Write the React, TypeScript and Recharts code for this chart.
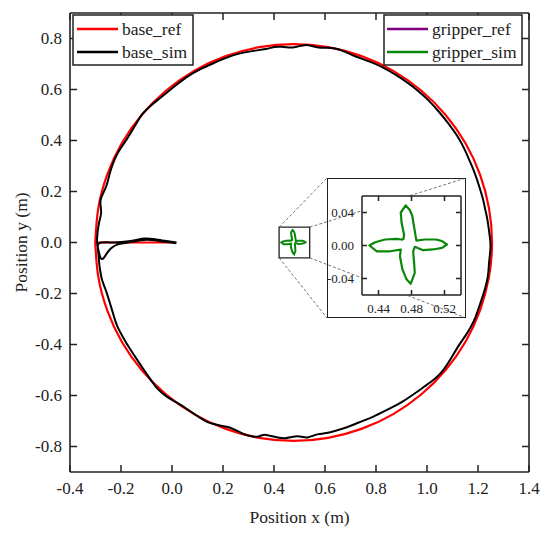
import { ComposedChart, Line, XAxis, YAxis, ReferenceLine, ReferenceArea, CartesianGrid } from "recharts";

// ---- data ----
const X_DOMAIN: [number, number] = [-0.4, 1.4];
const Y_DOMAIN: [number, number] = [-0.9, 0.9];
const X_TICKS = [-0.4, -0.2, 0, 0.2, 0.4, 0.6, 0.8, 1.0, 1.2, 1.4];
const Y_TICKS = [-0.8, -0.6, -0.4, -0.2, 0, 0.2, 0.4, 0.6, 0.8];

const ZOOM_X_DOMAIN: [number, number] = [0.42, 0.54];
const ZOOM_Y_DOMAIN: [number, number] = [-0.06, 0.06];
const ZOOM_X_TICKS = [0.44, 0.48, 0.52];
const ZOOM_Y_TICKS = [-0.04, 0, 0.04];

// base reference: straight run out to the circle, then the circle itself
const BASE_REF_RUN: [number, number][] = [[0.01, 0], [-0.301, 0]];
const BASE_REF_CIRCLE: [number, number][] = [
  [-0.301, 0],
  [-0.289, -0.135], [-0.254, -0.266], [-0.197, -0.389], [-0.119, -0.5], [-0.023, -0.596],
  [0.088, -0.674], [0.211, -0.731], [0.342, -0.766], [0.477, -0.778], [0.612, -0.766],
  [0.743, -0.731], [0.866, -0.674], [0.977, -0.596], [1.073, -0.5], [1.151, -0.389],
  [1.208, -0.266], [1.243, -0.135], [1.255, 0], [1.243, 0.135], [1.208, 0.266],
  [1.151, 0.389], [1.073, 0.5], [0.977, 0.596], [0.866, 0.674], [0.743, 0.731],
  [0.612, 0.766], [0.477, 0.778], [0.342, 0.766], [0.211, 0.731], [0.088, 0.674],
  [-0.023, 0.596], [-0.119, 0.5], [-0.197, 0.389], [-0.254, 0.266], [-0.289, 0.135],
  [-0.301, 0],
];

const BASE_SIM: [number, number][] = [
  [0.018, 0.0], [0.0, 0.003], [-0.04, 0.008], [-0.075, 0.014], [-0.105, 0.017], [-0.135, 0.011],
  [-0.17, 0.004], [-0.21, 0.001], [-0.25, 0.0], [-0.295, 0.002],
  [-0.29, -0.03], [-0.287, -0.06], [-0.285, -0.091], [-0.279, -0.125], [-0.276, -0.144],
  [-0.266, -0.17], [-0.256, -0.196], [-0.246, -0.23], [-0.236, -0.262], [-0.226, -0.295],
  [-0.217, -0.327], [-0.192, -0.372], [-0.165, -0.418], [-0.138, -0.458], [-0.113, -0.495],
  [-0.088, -0.532], [-0.06, -0.574], [-0.021, -0.606], [0.02, -0.628], [0.058, -0.652],
  [0.1, -0.681], [0.136, -0.705], [0.165, -0.712], [0.188, -0.718], [0.215, -0.722],
  [0.241, -0.731], [0.28, -0.752], [0.319, -0.763], [0.34, -0.762], [0.358, -0.752],
  [0.38, -0.757], [0.397, -0.761], [0.42, -0.766], [0.443, -0.769], [0.47, -0.762],
  [0.495, -0.758], [0.515, -0.764], [0.535, -0.765], [0.555, -0.757], [0.574, -0.751],
  [0.605, -0.748], [0.639, -0.739], [0.69, -0.724], [0.731, -0.706], [0.78, -0.688],
  [0.822, -0.667], [0.86, -0.648], [0.901, -0.627], [0.95, -0.594], [0.992, -0.563],
  [1.03, -0.536], [1.058, -0.51], [1.09, -0.462], [1.123, -0.405], [1.15, -0.368],
  [1.175, -0.327], [1.19, -0.295], [1.201, -0.262], [1.215, -0.222], [1.227, -0.183],
  [1.236, -0.15], [1.241, -0.118], [1.243, -0.08], [1.247, -0.045], [1.25, -0.016],
  [1.247, 0.02], [1.244, 0.04], [1.241, 0.063], [1.237, 0.09], [1.232, 0.115],
  [1.226, 0.14], [1.221, 0.167], [1.205, 0.22], [1.188, 0.272], [1.168, 0.318],
  [1.149, 0.364], [1.12, 0.418], [1.084, 0.468], [1.045, 0.515], [1.005, 0.56],
  [0.965, 0.595], [0.927, 0.625], [0.875, 0.66], [0.822, 0.69], [0.77, 0.712],
  [0.718, 0.729], [0.68, 0.748], [0.639, 0.763], [0.605, 0.764], [0.574, 0.763],
  [0.545, 0.772], [0.522, 0.776], [0.49, 0.767], [0.456, 0.763], [0.43, 0.768],
  [0.404, 0.769], [0.371, 0.758], [0.32, 0.752], [0.267, 0.743], [0.215, 0.726],
  [0.162, 0.703], [0.11, 0.68], [0.058, 0.651], [0.005, 0.609], [-0.047, 0.566],
  [-0.08, 0.54], [-0.118, 0.506], [-0.142, 0.462], [-0.178, 0.403], [-0.198, 0.375],
  [-0.214, 0.35], [-0.232, 0.31], [-0.245, 0.27], [-0.256, 0.22], [-0.272, 0.19],
  [-0.282, 0.167], [-0.28, 0.14], [-0.276, 0.115], [-0.284, 0.09], [-0.289, 0.063],
  [-0.293, 0.03], [-0.295, 0.004],
  [-0.29, -0.025], [-0.284, -0.05], [-0.279, -0.064], [-0.272, -0.066], [-0.263, -0.055],
  [-0.243, -0.022], [-0.211, -0.004], [-0.17, 0.0], [-0.14, 0.006], [-0.11, 0.011],
  [-0.08, 0.01], [-0.05, 0.006], [-0.02, 0.002], [0.005, -0.001], [0.017, -0.003],
];

const GRIPPER_SIM: [number, number][] = [
  [0.47, 0.007], [0.471, 0.013], [0.468, 0.0275], [0.467, 0.04], [0.473, 0.0485],
  [0.478, 0.043], [0.481, 0.0356], [0.483, 0.0234], [0.485, 0.0113], [0.486, 0.006],
  [0.496, 0.0073], [0.51, 0.0073], [0.517, 0.0053], [0.523, 0.0012], [0.517, -0.0028],
  [0.506, -0.0048], [0.494, -0.0057], [0.484, -0.0016], [0.482, -0.007], [0.483, -0.019],
  [0.484, -0.033], [0.479, -0.0465], [0.474, -0.041], [0.469, -0.029], [0.466, -0.013],
  [0.467, -0.005], [0.454, -0.007], [0.438, -0.007], [0.429, 0.0], [0.436, 0.004],
  [0.448, 0.0073], [0.462, 0.008], [0.47, 0.007],
];

const LEGEND_BASE = [{ name: "base_ref", color: "#ff0000" }, { name: "base_sim", color: "#000" }];
const LEGEND_GRIPPER = [{ name: "gripper_ref", color: "#800080" }, { name: "gripper_sim", color: "#0a870a" }];

const toPts = (a: [number, number][]) => a.map(([x, y]) => ({ x, y }));

// ---- layout ----
const W = 542;
const H = 528;
const PLOT_LEFT = 62;
const PLOT_TOP = 5;
const PLOT_W = 459;
const PLOT_H = 459;
const INSET = { left: 319, top: 170, width: 139, height: 140 };

const FONT = "'Liberation Serif', 'Times New Roman', Times, serif";
const AX = "#222";

const pxToX = (px: number) => X_DOMAIN[0] + ((px - PLOT_LEFT) / PLOT_W) * (X_DOMAIN[1] - X_DOMAIN[0]);
const pxToY = (py: number) => Y_DOMAIN[1] - ((py - PLOT_TOP) / PLOT_H) * (Y_DOMAIN[1] - Y_DOMAIN[0]);

function makeTick(side: string, len: number, fs: number, digits: number, gap: number, label: boolean) {
  return (p: any) => {
    const { x, y, payload } = p;
    const txt = Number(payload.value).toFixed(digits);
    const common = { fontSize: fs, fontFamily: FONT, fill: "#222" };
    if (side === "bottom")
      return (
        <g>
          <line x1={x} y1={y} x2={x} y2={y - len} stroke={AX} strokeWidth={1.5} />
          {label && (
            <text x={x} y={y + gap} textAnchor="middle" dominantBaseline="central" {...common}>
              {txt}
            </text>
          )}
        </g>
      );
    if (side === "top") return <line x1={x} y1={y} x2={x} y2={y + len} stroke={AX} strokeWidth={1.5} />;
    if (side === "right") return <line x1={x} y1={y} x2={x - len} y2={y} stroke={AX} strokeWidth={1.5} />;
    return (
      <g>
        <line x1={x} y1={y} x2={x + len} y2={y} stroke={AX} strokeWidth={1.5} />
        {label && (
          <text x={x - gap} y={y} textAnchor="end" dominantBaseline="central" {...common}>
            {txt}
          </text>
        )}
      </g>
    );
  };
}

function Inset() {
  return (
    <div style={{ position: "absolute", left: INSET.left, top: INSET.top }}>
      <ComposedChart width={INSET.width} height={INSET.height} margin={{ top: 0, right: 0, bottom: 0, left: 0 }}>
        <CartesianGrid xAxisId="b" yAxisId="l" horizontal={false} vertical={false} fill="#fff" fillOpacity={1} />
        <XAxis xAxisId="b" type="number" dataKey="x" domain={ZOOM_X_DOMAIN} ticks={ZOOM_X_TICKS} allowDataOverflow
          height={23} tickSize={0} tickMargin={0} tickLine={false} axisLine={{ stroke: AX, strokeWidth: 1.5 }}
          tick={makeTick("bottom", 5, 13, 2, 13, true)} interval={0} />
        <XAxis xAxisId="t" orientation="top" type="number" dataKey="x" domain={ZOOM_X_DOMAIN} ticks={ZOOM_X_TICKS}
          allowDataOverflow height={18} tickSize={0} tickMargin={0} tickLine={false}
          axisLine={{ stroke: AX, strokeWidth: 1.5 }} tick={makeTick("top", 5, 13, 2, 0, false)} interval={0} />
        <YAxis yAxisId="l" type="number" domain={ZOOM_Y_DOMAIN} ticks={ZOOM_Y_TICKS} allowDataOverflow width={35}
          tickSize={0} tickMargin={0} tickLine={false} axisLine={{ stroke: AX, strokeWidth: 1.5 }}
          tick={makeTick("left", 5, 13, 2, 8, true)} interval={0} />
        <YAxis yAxisId="r" orientation="right" type="number" domain={ZOOM_Y_DOMAIN} ticks={ZOOM_Y_TICKS}
          allowDataOverflow width={5} tickSize={0} tickMargin={0} tickLine={false}
          axisLine={{ stroke: AX, strokeWidth: 1.5 }} tick={makeTick("right", 5, 13, 2, 0, false)} interval={0} />
        <Line xAxisId="b" yAxisId="l" data={toPts(GRIPPER_SIM)} dataKey="y" type="linear" stroke="#0a870a"
          strokeWidth={2.2} strokeLinejoin="round" dot={false} activeDot={false} isAnimationActive={false} />
      </ComposedChart>
      <div style={{ position: "absolute", left: 0, top: 0, width: INSET.width, height: INSET.height,
        border: `1.5px solid ${AX}`, boxSizing: "border-box", pointerEvents: "none" }} />
    </div>
  );
}

function Legends() {
  const box = (bx: number, bw: number, lineX: number, items: { name: string; color: string }[]) => (
    <g>
      <rect x={bx} y={7} width={bw} height={50} fill="#fff" stroke={AX} strokeWidth={1.5} />
      {items.map((it, i) => (
        <g key={it.name}>
          <line x1={bx + lineX} x2={bx + lineX + 41} y1={21 + i * 23} y2={21 + i * 23} stroke={it.color} strokeWidth={2.5} />
          <text x={bx + lineX + 45} y={27 + i * 23} fontSize={17.5} fontFamily={FONT} fill="#222">{it.name}</text>
        </g>
      ))}
    </g>
  );
  return (
    <svg width={W} height={H} style={{ position: "absolute", left: 0, top: 0, pointerEvents: "none" }}>
      {box(65, 120, 4, LEGEND_BASE)}
      {box(376, 138, 3, LEGEND_GRIPPER)}
    </svg>
  );
}

export default function App() {
  const corners = [
    { sx: ZOOM_X_DOMAIN[0], sy: ZOOM_Y_DOMAIN[1], px: INSET.left, py: INSET.top },
    { sx: ZOOM_X_DOMAIN[1], sy: ZOOM_Y_DOMAIN[1], px: INSET.left + INSET.width, py: INSET.top },
    { sx: ZOOM_X_DOMAIN[0], sy: ZOOM_Y_DOMAIN[0], px: INSET.left, py: INSET.top + INSET.height },
    { sx: ZOOM_X_DOMAIN[1], sy: ZOOM_Y_DOMAIN[0], px: INSET.left + INSET.width, py: INSET.top + INSET.height },
  ];
  return (
    <div style={{ position: "relative", width: W, height: H, fontFamily: FONT }}>
      <ComposedChart width={W} height={H} margin={{ top: 0, right: 0, bottom: 0, left: 0 }}>
        <XAxis xAxisId="b" type="number" dataKey="x" domain={X_DOMAIN} ticks={X_TICKS} allowDataOverflow height={64}
          tickSize={0} tickMargin={0} tickLine={false} axisLine={{ stroke: AX, strokeWidth: 1.6 }}
          tick={makeTick("bottom", 7, 17, 1, 16, true)} interval={0}
          label={{
            content: ({ viewBox }: any) => (
              <text x={viewBox.x + viewBox.width / 2} y={viewBox.y + 51} textAnchor="middle" fontSize={17.5}
                fontFamily={FONT} fill="#222">Position x (m)</text>
            ),
          }} />
        <XAxis xAxisId="t" orientation="top" type="number" dataKey="x" domain={X_DOMAIN} ticks={X_TICKS}
          allowDataOverflow height={5} tickSize={0} tickMargin={0} tickLine={false}
          axisLine={{ stroke: AX, strokeWidth: 1.6 }} tick={makeTick("top", 7, 17, 1, 0, false)} interval={0} />
        <YAxis yAxisId="l" type="number" domain={Y_DOMAIN} ticks={Y_TICKS} allowDataOverflow width={62}
          tickSize={0} tickMargin={0} tickLine={false} axisLine={{ stroke: AX, strokeWidth: 1.6 }}
          tick={makeTick("left", 7, 17, 1, 8, true)} interval={0}
          label={{
            content: ({ viewBox }: any) => {
              const cx = viewBox.x + 13;
              const cy = viewBox.y + viewBox.height / 2;
              return (
                <text x={cx} y={cy} transform={`rotate(-90 ${cx} ${cy})`} textAnchor="middle"
                  dominantBaseline="central" fontSize={17.5} fontFamily={FONT} fill="#222">Position y (m)</text>
              );
            },
          }} />
        <YAxis yAxisId="r" orientation="right" type="number" domain={Y_DOMAIN} ticks={Y_TICKS} allowDataOverflow
          width={W - PLOT_LEFT - PLOT_W} tickSize={0} tickMargin={0} tickLine={false}
          axisLine={{ stroke: AX, strokeWidth: 1.6 }} tick={makeTick("right", 7, 17, 1, 0, false)} interval={0} />

        <ReferenceArea xAxisId="b" yAxisId="l" x1={ZOOM_X_DOMAIN[0]} x2={ZOOM_X_DOMAIN[1]}
          y1={ZOOM_Y_DOMAIN[0]} y2={ZOOM_Y_DOMAIN[1]} stroke={AX} strokeWidth={1.3} fill="#fff" fillOpacity={0} />
        {corners.map((c, i) => (
          <ReferenceLine key={i} xAxisId="b" yAxisId="l" ifOverflow="visible"
            segment={[{ x: c.sx, y: c.sy }, { x: pxToX(c.px), y: pxToY(c.py) }]}
            stroke="#666" strokeWidth={0.9} strokeDasharray="3 2" />
        ))}

        <Line xAxisId="b" yAxisId="l" data={toPts(BASE_REF_RUN)} dataKey="y" type="linear" stroke="#ff0000"
          strokeWidth={2.2} dot={false} activeDot={false} isAnimationActive={false} />
        <Line xAxisId="b" yAxisId="l" data={toPts(BASE_REF_CIRCLE)} dataKey="y" type="natural" stroke="#ff0000"
          strokeWidth={2.2} dot={false} activeDot={false} isAnimationActive={false} />
        <Line xAxisId="b" yAxisId="l" data={toPts(BASE_SIM)} dataKey="y" type="basis" stroke="#000"
          strokeWidth={2} dot={false} activeDot={false} isAnimationActive={false} />
        <Line xAxisId="b" yAxisId="l" data={toPts(GRIPPER_SIM)} dataKey="y" type="linear" stroke="#0a870a"
          strokeWidth={2} dot={false} activeDot={false} isAnimationActive={false} />
      </ComposedChart>
      <Inset />
      <Legends />
    </div>
  );
}
